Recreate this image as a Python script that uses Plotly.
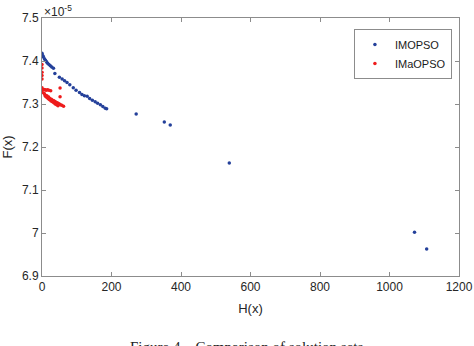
import plotly.graph_objects as go

# IMOPSO solution set (H(x), F(x) in units of 1e-5)
imopso_h = [0, 2, 4, 7, 10, 13, 16, 20, 24, 28, 33, 37, 50, 58, 65, 72, 80, 90, 98,
            108, 115, 122, 130, 137, 145, 153, 160, 168, 175, 182, 186,
            271, 352, 369, 539, 1072, 1107]
imopso_f = [7.418, 7.413, 7.410, 7.405, 7.402, 7.398, 7.395, 7.392, 7.389, 7.386,
            7.383, 7.371, 7.362, 7.358, 7.354, 7.350, 7.345, 7.338, 7.332, 7.327,
            7.322, 7.319, 7.318, 7.313, 7.309, 7.305, 7.302, 7.298, 7.294, 7.290,
            7.289, 7.277, 7.258, 7.251, 7.163, 7.002, 6.963]

# IMaOPSO solution set
imaopso_h = [0, 0, 0, 0, 0, 0, 0, 0, 0,
             3, 6, 9, 12, 16, 20, 25, 52, 52,
             6, 8, 10, 12, 14, 15, 17, 19, 20, 22, 24, 26, 27, 29, 31, 33, 35, 37,
             38, 40, 42, 44, 46, 48, 50, 53, 57, 62,
             10, 14, 18, 22, 26, 30, 34, 38, 42, 46]
imaopso_f = [7.392, 7.384, 7.374, 7.366, 7.358, 7.338, 7.334, 7.331, 7.327,
             7.333, 7.334, 7.333, 7.332, 7.333, 7.332, 7.331, 7.337, 7.317,
             7.325, 7.322, 7.320, 7.318, 7.319, 7.316, 7.315, 7.316, 7.313, 7.313,
             7.311, 7.310, 7.311, 7.308, 7.307, 7.308, 7.305, 7.304, 7.306, 7.303,
             7.302, 7.303, 7.301, 7.300, 7.300, 7.298, 7.297, 7.295,
             7.318, 7.315, 7.312, 7.310, 7.307, 7.305, 7.303, 7.300, 7.298, 7.296]

x_ticks = [0, 200, 400, 600, 800, 1000, 1200]
y_ticks = [6.9, 7.0, 7.1, 7.2, 7.3, 7.4, 7.5]
y_tick_text = ["6.9", "7", "7.1", "7.2", "7.3", "7.4", "7.5"]

fig = go.Figure()
fig.add_trace(go.Scatter(x=imopso_h, y=imopso_f, mode="markers", name="IMOPSO",
                         marker=dict(color="#24409a", size=3.5)))
fig.add_trace(go.Scatter(x=imaopso_h, y=imaopso_f, mode="markers", name="IMaOPSO",
                         marker=dict(color="#ee1c1c", size=3.5)))

axis_common = dict(showline=True, linecolor="#8c8c8c", linewidth=1, mirror="ticks",
                   ticks="inside", ticklen=4, tickcolor="#8c8c8c", showgrid=False,
                   zeroline=False, automargin=False,
                   tickfont=dict(family="Liberation Sans", size=12, color="#262626"))

fig.update_layout(
    width=474, height=346,
    margin=dict(l=42, r=15, t=18, b=70),
    plot_bgcolor="white", paper_bgcolor="white",
    font=dict(family="Liberation Sans", size=12, color="#262626"),
    xaxis=dict(range=[0, 1200], tickvals=x_ticks, title=dict(text="H(x)", standoff=10,
               font=dict(size=13)), **axis_common),
    yaxis=dict(range=[6.9, 7.5], tickvals=y_ticks, ticktext=y_tick_text,
               title=dict(text="F(x)", standoff=8, font=dict(size=13)), **axis_common),
    legend=dict(x=0.748, y=0.957, xanchor="left", yanchor="top",
                bordercolor="#8c8c8c", borderwidth=1, bgcolor="white",
                font=dict(size=11, color="#1a1a1a"), itemwidth=30,
                tracegroupgap=0),
    showlegend=True,
)
fig.add_annotation(text="×10<sup>-5</sup>", xref="paper", yref="paper", x=0, y=1.0,
                   xanchor="left", yanchor="bottom", showarrow=False,
                   font=dict(size=12, color="#262626"), yshift=-3)
fig.add_annotation(text="Figure 4    Comparison of solution sets", xref="paper", yref="paper",
                   x=0.49, y=0, yshift=-61, xanchor="center", yanchor="top", showarrow=False,
                   font=dict(family="Liberation Serif", size=15, color="#222222"))

fig.write_html("out.html")
